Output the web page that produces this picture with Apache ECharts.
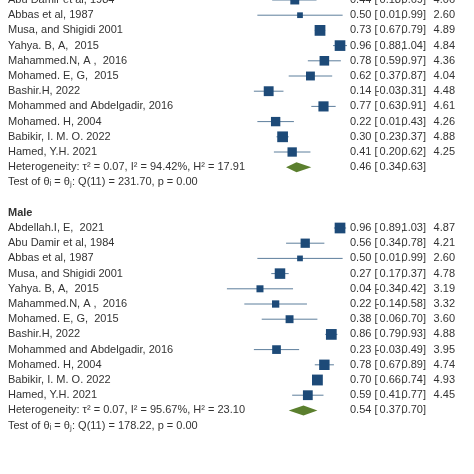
<!DOCTYPE html>
<html>
<head>
<meta charset="utf-8">
<script src="https://cdn.jsdelivr.net/npm/echarts@6/dist/echarts.min.js"></script>
<style>html,body{margin:0;padding:0;background:#fff}#c{width:474px;height:474px}</style>
</head>
<body>
<div id="c"></div>
<script>
var studies = ['Abu Damir et al, 1984', 'Abbas et al, 1987', 'Musa, and Shigidi 2001', 'Yahya. B, A,  2015',
    'Mahammed.N, A ,  2016', 'Mohamed. E, G,  2015', 'Bashir.H, 2022', 'Mohammed and Abdelgadir, 2016',
    'Mohamed. H, 2004', 'Babikir, I. M. O. 2022', 'Hamed, Y.H. 2021'];
var maleStudies = ['Abdellah.I, E,  2021'].concat(studies);

var femEst = [0.44, 0.50, 0.73, 0.96, 0.78, 0.62, 0.14, 0.77, 0.22, 0.30, 0.41];
var femLo = [0.18, 0.01, 0.67, 0.88, 0.59, 0.37, -0.03, 0.63, 0.01, 0.23, 0.20];
var femHi = [0.69, 0.99, 0.79, 1.04, 0.97, 0.87, 0.31, 0.91, 0.43, 0.37, 0.62];
var femW = [4.06, 2.60, 4.89, 4.84, 4.36, 4.04, 4.48, 4.61, 4.26, 4.88, 4.25];
var femPool = [0.46, 0.34, 0.63];

var maleEst = [0.96, 0.56, 0.50, 0.27, 0.04, 0.22, 0.38, 0.86, 0.23, 0.78, 0.70, 0.59];
var maleLo = [0.89, 0.34, 0.01, 0.17, -0.34, -0.14, 0.06, 0.79, -0.03, 0.67, 0.66, 0.41];
var maleHi = [1.03, 0.78, 0.99, 0.37, 0.42, 0.58, 0.70, 0.93, 0.49, 0.89, 0.74, 0.77];
var maleW = [4.87, 4.21, 2.60, 4.78, 3.19, 3.32, 3.60, 4.88, 3.95, 4.74, 4.93, 4.45];
var malePool = [0.54, 0.37, 0.70];

var femHet = 'Heterogeneity: τ² = 0.07, I² = 94.42%, H² = 17.91';
var femTest = 'Test of θᵢ = θⱼ: Q(11) = 231.70, p = 0.00';
var maleHet = 'Heterogeneity: τ² = 0.07, I² = 95.67%, H² = 23.10';
var maleTest = 'Test of θᵢ = θⱼ: Q(11) = 178.22, p = 0.00';

// rows: [row, label, est, lo, hi, weight, kind]
var rows = [];
studies.forEach(function (s, i) { rows.push([i, s, femEst[i], femLo[i], femHi[i], femW[i], 'study']); });
rows.push([11, femHet, femPool[0], femPool[1], femPool[2], 0, 'pool']);
rows.push([12, femTest, 0, 0, 0, 0, 'text']);
rows.push([14, 'Male', 0, 0, 0, 0, 'head']);
maleStudies.forEach(function (s, i) { rows.push([15 + i, s, maleEst[i], maleLo[i], maleHi[i], maleW[i], 'study']); });
rows.push([27, maleHet, malePool[0], malePool[1], malePool[2], 0, 'pool']);
rows.push([28, maleTest, 0, 0, 0, 0, 'text']);

var font = 'Liberation Sans, Arial, sans-serif';
function txt(x, y, s, align, bold) {
    return { type: 'text', style: { x: x, y: y, text: s, fill: '#333', font: (bold ? 'bold ' : '') + '11px ' + font, textAlign: align || 'left', textVerticalAlign: 'middle' } };
}

function renderItem(params, api) {
    var r = api.value(0), kind = rows[params.dataIndex][6], label = rows[params.dataIndex][1];
    var est = api.value(2), lo = api.value(3), hi = api.value(4), w = api.value(5);
    var y = api.coord([0, r])[1];
    var ch = [txt(8, y, label, 'left', kind === 'head')];
    if (kind === 'study') {
        var x = api.coord([est, r])[0], xl = api.coord([lo, r])[0], xh = api.coord([hi, r])[0];
        var s = 2.2 * w;
        ch.push({ type: 'line', shape: { x1: xl, y1: y, x2: xh, y2: y }, style: { stroke: '#5d7e9c', lineWidth: 1 } });
        ch.push({ type: 'rect', shape: { x: x - s / 2, y: y - s / 2, width: s, height: s }, style: { fill: '#1d4a78' } });
        ch.push(txt(455, y, w.toFixed(2), 'right'));
    }
    if (kind === 'pool') {
        var xc = api.coord([est, r])[0], a = api.coord([lo, r])[0], b = api.coord([hi, r])[0];
        ch.push({ type: 'polygon', shape: { points: [[a, y], [xc, y - 5], [b, y], [xc, y + 5]] }, style: { fill: '#5b7f2e' } });
    }
    if (kind === 'study' || kind === 'pool') {
        ch.push(txt(350, y, est.toFixed(2) + ' [', 'left'));
        ch.push(txt(404, y, lo.toFixed(2) + ',', 'right'));
        ch.push(txt(426, y, hi.toFixed(2) + ']', 'right'));
    }
    return { type: 'group', children: ch };
}

var chart = echarts.init(document.getElementById('c'));
chart.setOption({
    animation: false,
    grid: { left: 0, right: 0, top: 0, bottom: 0 },
    xAxis: { type: 'value', min: -256.5 / 87, max: (474 - 256.5) / 87, show: false },
    yAxis: { type: 'value', inverse: true, min: 0, max: 474 / 15.2, show: false },
    series: [{ type: 'custom', renderItem: renderItem, data: rows.map(function (d) { return [d[0], 0, d[2], d[3], d[4], d[5]]; }), clip: false }]
});
</script>
</body>
</html>
